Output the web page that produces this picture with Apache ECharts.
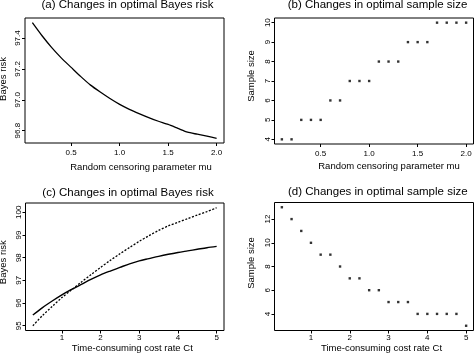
<!DOCTYPE html>
<html>
<head>
<meta charset="utf-8">
<script src="https://cdn.jsdelivr.net/npm/echarts@6/dist/echarts.min.js"></script>
<style>
  html, body { margin: 0; padding: 0; background: #fff; }
  #chart { width: 474px; height: 353px; }
</style>
</head>
<body>
<div id="chart"></div>
<script>
// random censoring parameter mu (panels a, b)
var muVals = [0.1, 0.2, 0.3, 0.4, 0.5, 0.6, 0.7, 0.8, 0.9, 1.0,
              1.1, 1.2, 1.3, 1.4, 1.5, 1.6, 1.7, 1.8, 1.9, 2.0];
var riskMu = [97.50, 97.415, 97.338, 97.27, 97.21, 97.15, 97.095, 97.05, 97.008, 96.97,
              96.938, 96.91, 96.884, 96.861, 96.84, 96.815, 96.79, 96.777, 96.764, 96.75];
var sizeMu = [4, 4, 5, 5, 5, 6, 6, 7, 7, 7, 8, 8, 8, 9, 9, 9, 10, 10, 10, 10];

// time-consuming cost rate Ct (panels c, d)
var ctVals = [0.25, 0.5, 0.75, 1.0, 1.25, 1.5, 1.75, 2.0, 2.25, 2.5,
              2.75, 3.0, 3.25, 3.5, 3.75, 4.0, 4.25, 4.5, 4.75, 5.0];
var riskCtSolid = [95.47, 95.80, 96.09, 96.36, 96.60, 96.82, 97.04, 97.24, 97.41, 97.57,
                   97.73, 97.86, 97.96, 98.06, 98.15, 98.23, 98.30, 98.37, 98.44, 98.50];
var riskCtDashed = [95.00, 95.45, 95.85, 96.24, 96.58, 96.92, 97.25, 97.57, 97.88, 98.17,
                    98.45, 98.72, 98.97, 99.20, 99.40, 99.56, 99.72, 99.88, 100.03, 100.20];
var sizeCt = [13, 12, 11, 10, 9, 9, 8, 7, 7, 6, 6, 5, 5, 5, 4, 4, 4, 4, 4, 3];

// tick labels
var muTicks = [0.5, 1.0, 1.5, 2.0];
var ctTicks = [1, 2, 3, 4, 5];
var riskMuTicks = [96.8, 97.0, 97.2, 97.4];
var sizeMuTicks = [4, 5, 6, 7, 8, 9, 10];
var riskCtTicks = [95, 96, 97, 98, 99, 100];
var sizeCtTicks = [4, 6, 8, 10, 12];

var titles = ['(a) Changes in optimal Bayes risk', '(b) Changes in optimal sample size',
              '(c) Changes in optimal Bayes risk', '(d) Changes in optimal sample size'];

var FONT = 'Liberation Sans, Arial, Helvetica, sans-serif';

function pairs(xs, ys) {
  return xs.map(function (x, i) { return [x, ys[i]]; });
}

function xAxisOf(idx, min, max, ticks, name, fmt, margin, gap, shift) {
  return {
    type: 'value', gridIndex: idx, min: min, max: max,
    name: name, nameLocation: 'middle', nameGap: gap,
    nameTextStyle: { fontFamily: FONT, fontSize: 9.5, color: '#000', padding: [0, 0, 0, shift] },
    axisLine: { show: false },
    axisTick: { show: true, inside: false, length: 3, customValues: ticks, lineStyle: { color: '#000', width: 1 } },
    axisLabel: { customValues: ticks, margin: margin, fontFamily: FONT, fontSize: 8, color: '#000', formatter: fmt },
    splitLine: { show: false }
  };
}

function yAxisOf(idx, min, max, ticks, name, fmt, gap, shift) {
  return {
    type: 'value', gridIndex: idx, min: min, max: max,
    name: name, nameLocation: 'middle', nameGap: gap, nameRotate: 90,
    nameTextStyle: { fontFamily: FONT, fontSize: 9.5, color: '#000', padding: [0, 0, 0, shift] },
    axisLine: { show: false },
    axisTick: { show: true, inside: false, length: 3, customValues: ticks, lineStyle: { color: '#000', width: 1 } },
    axisLabel: { customValues: ticks, rotate: 90, margin: 3, fontFamily: FONT, fontSize: 8, color: '#000', formatter: fmt },
    splitLine: { show: false }
  };
}

var f1 = function (v) { return v.toFixed(1); };
var f0 = function (v) { return String(Math.round(v)); };

var gridBase = { show: true, borderColor: '#000', borderWidth: 1, backgroundColor: 'transparent', containLabel: false, outerBoundsMode: 'none' };

var option = {
  animation: false,
  backgroundColor: '#fff',
  grid: [
    Object.assign({ left: 25, top: 18, width: 199, height: 125 }, gridBase),
    Object.assign({ left: 274.5, top: 18, width: 199, height: 126 }, gridBase),
    Object.assign({ left: 25.5, top: 203, width: 198.5, height: 127.5 }, gridBase),
    Object.assign({ left: 274.5, top: 202.5, width: 199, height: 128 }, gridBase)
  ],
  xAxis: [
    xAxisOf(0, 0.024, 2.076, muTicks, 'Random censoring parameter mu', f1, 5.5, 19, 33),
    xAxisOf(1, 0.024, 2.076, muTicks, 'Random censoring parameter mu', f1, 5.5, 17, 30),
    xAxisOf(2, 0.06, 5.19, ctTicks, 'Time-consuming cost rate Ct', f0, 3.5, 11, 15),
    xAxisOf(3, 0.06, 5.19, ctTicks, 'Time-consuming cost rate Ct', f0, 3.5, 11, 15)
  ],
  yAxis: [
    yAxisOf(0, 96.72, 97.53, riskMuTicks, 'Bayes risk', f1, 17, 3),
    yAxisOf(1, 3.76, 10.24, sizeMuTicks, 'Sample size', f0, 18, 10),
    yAxisOf(2, 94.79, 100.41, riskCtTicks, 'Bayes risk', f0, 17, 9),
    yAxisOf(3, 2.6, 13.4, sizeCtTicks, 'Sample size', f0, 18, 7)
  ],
  graphic: [
    { type: 'text', x: 127.5, y: 5, style: { text: titles[0], fontFamily: FONT, fontSize: 11.5, fill: '#000', align: 'center', verticalAlign: 'middle' } },
    { type: 'text', x: 377.5, y: 5, style: { text: titles[1], fontFamily: FONT, fontSize: 11.5, fill: '#000', align: 'center', verticalAlign: 'middle' } },
    { type: 'text', x: 128, y: 192.5, style: { text: titles[2], fontFamily: FONT, fontSize: 11.5, fill: '#000', align: 'center', verticalAlign: 'middle' } },
    { type: 'text', x: 377.8, y: 192, style: { text: titles[3], fontFamily: FONT, fontSize: 11.5, fill: '#000', align: 'center', verticalAlign: 'middle' } }
  ],
  series: [
    {
      type: 'line', xAxisIndex: 0, yAxisIndex: 0, data: pairs(muVals, riskMu),
      showSymbol: false, smooth: 0.2,
      lineStyle: { color: '#000', width: 1.3 }
    },
    {
      type: 'scatter', xAxisIndex: 1, yAxisIndex: 1, data: pairs(muVals, sizeMu),
      symbol: 'rect', symbolSize: 2.4, itemStyle: { color: '#000' }
    },
    {
      type: 'line', xAxisIndex: 2, yAxisIndex: 2, data: pairs(ctVals, riskCtSolid),
      showSymbol: false, smooth: 0.3,
      lineStyle: { color: '#000', width: 1.4 }
    },
    {
      type: 'line', xAxisIndex: 2, yAxisIndex: 2, data: pairs(ctVals, riskCtDashed),
      showSymbol: false, smooth: 0.3,
      lineStyle: { color: '#000', width: 1.3, type: [2, 1.6] }
    },
    {
      type: 'scatter', xAxisIndex: 3, yAxisIndex: 3, data: pairs(ctVals, sizeCt),
      symbol: 'rect', symbolSize: 2.4, itemStyle: { color: '#000' }
    }
  ]
};

var chart = echarts.init(document.getElementById('chart'), null, { renderer: 'canvas' });
chart.setOption(option);
</script>
</body>
</html>
